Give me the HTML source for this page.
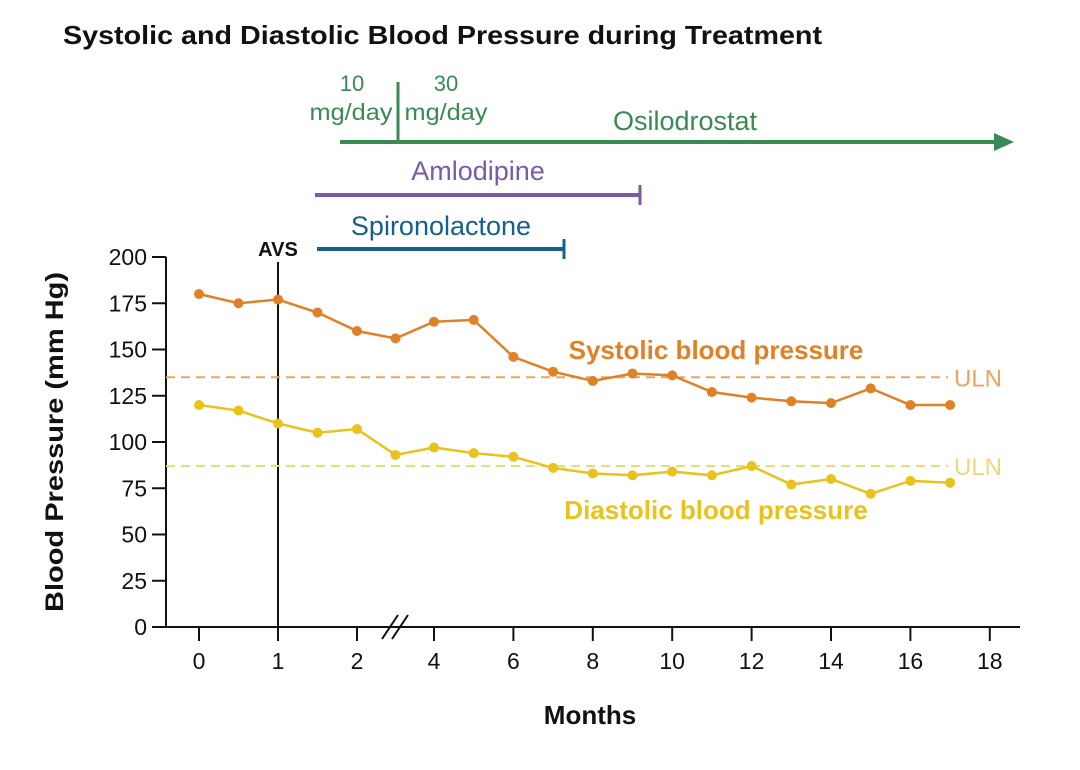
<!DOCTYPE html>
<html><head><meta charset="utf-8"><style>
body{margin:0;background:#fff;width:1080px;height:770px;overflow:hidden}
svg{display:block;font-family:"Liberation Sans",sans-serif}
</style></head><body>
<svg id="chart" width="1080" height="770" viewBox="0 0 1080 770">
<text x="63" y="44" font-size="26" font-weight="bold" fill="#111" textLength="759" lengthAdjust="spacingAndGlyphs">Systolic and Diastolic Blood Pressure during Treatment</text>
<g fill="#3a8a55" stroke="#3a8a55">
<line x1="340" y1="142" x2="996" y2="142" stroke-width="4"/>
<polygon points="994,133 1014,142 994,151" stroke="none"/>
<line x1="398" y1="82" x2="398" y2="142" stroke-width="3"/>
<text x="352" y="91" font-size="22" text-anchor="middle" stroke="none">10</text>
<text x="351" y="120" font-size="23" text-anchor="middle" stroke="none" textLength="83" lengthAdjust="spacingAndGlyphs">mg/day</text>
<text x="446" y="91" font-size="22" text-anchor="middle" stroke="none">30</text>
<text x="446" y="120" font-size="23" text-anchor="middle" stroke="none" textLength="83" lengthAdjust="spacingAndGlyphs">mg/day</text>
<text x="685" y="130" font-size="27" text-anchor="middle" stroke="none">Osilodrostat</text>
</g>
<g stroke="#7b5aa6" fill="#7b5aa6">
<line x1="315" y1="195" x2="640" y2="195" stroke-width="4"/>
<line x1="640" y1="185" x2="640" y2="205" stroke-width="3"/>
<text x="478" y="180" font-size="27" text-anchor="middle" stroke="none">Amlodipine</text>
</g>
<g stroke="#15608e" fill="#15608e">
<line x1="317" y1="249" x2="564" y2="249" stroke-width="4"/>
<line x1="564" y1="239" x2="564" y2="259" stroke-width="3"/>
<text x="441" y="235" font-size="27" text-anchor="middle" stroke="none">Spironolactone</text>
</g>
<g id="axes"></g>
<g id="marks"></g>
</svg>
<script>
const months=[0,0.5,1,1.5,2,3,4,5,6,7,8,9,10,11,12,13,14,15,16,17];
const systolic=[180,175,177,170,160,156,165,166,146,138,133,137,136,127,124,122,121,129,120,120];
const diastolic=[120,117,110,105,107,93,97,94,92,86,83,82,84,82,87,77,80,72,79,78];
const xTicks=[0,1,2,4,6,8,10,12,14,16,18];
const yTicks=[0,25,50,75,100,125,150,175,200];
const ulnSys=135, ulnDia=87;
const NS="http://www.w3.org/2000/svg";
function xs(m){return m<=2?199+79*m:(m<=4?357+(m-2)*38.5:434+(m-4)*39.7);}
function ys(v){return 627-v*1.85;}
function mk(tag,attrs,parent){const e=document.createElementNS(NS,tag);for(const k in attrs)e.setAttribute(k,attrs[k]);parent.appendChild(e);return e;}
const ax=document.getElementById('axes'), mg=document.getElementById('marks');
let e;
e=mk('line',{x1:166,y1:257,x2:166,y2:628,stroke:'#111','stroke-width':2},ax);


e=mk('line',{x1:152,y1:627,x2:1020,y2:627,stroke:'#111','stroke-width':2},ax);


yTicks.forEach(v=>{
 mk('line',{x1:152,y1:ys(v),x2:166,y2:ys(v),stroke:'#111','stroke-width':2},ax);
 e=mk('text',{x:147,y:ys(v)+8,'font-size':23,'text-anchor':'end',fill:'#111'},ax);e.textContent=v;
 
 
});
xTicks.forEach(m=>{
 mk('line',{x1:xs(m),y1:627,x2:xs(m),y2:641,stroke:'#111','stroke-width':2},ax);
 e=mk('text',{x:xs(m),y:669,'font-size':23,'text-anchor':'middle',fill:'#111'},ax);e.textContent=m;
 
 
});
mk('line',{x1:382,y1:639,x2:398,y2:615,stroke:'#111','stroke-width':2},ax);
mk('line',{x1:392,y1:639,x2:408,y2:615,stroke:'#111','stroke-width':2},ax);
e=mk('text',{x:590,y:724,'font-size':26,'font-weight':'bold','text-anchor':'middle',fill:'#111'},ax);e.textContent='Months';


e=mk('text',{x:0,y:0,'font-size':25,'font-weight':'bold','text-anchor':'middle',fill:'#111',transform:'translate(63,442) rotate(-90)',textLength:340,lengthAdjust:'spacingAndGlyphs'},ax);e.textContent='Blood Pressure (mm Hg)';


e=mk('line',{x1:278,y1:262,x2:278,y2:641,stroke:'#111','stroke-width':2},ax);


e=mk('text',{x:278,y:256,'font-size':20,'font-weight':'bold','text-anchor':'middle',fill:'#111'},ax);e.textContent='AVS';


function uln(v,col,name){
 e=mk('line',{x1:166,y1:ys(v),x2:948,y2:ys(v),stroke:col,'stroke-width':2,'stroke-dasharray':'9,6'},mg);
 
 
 e=mk('text',{x:954,y:ys(v)+9,'font-size':24,fill:col},mg);e.textContent='ULN';
 
 
}
uln(ulnSys,'#eba55e','systolic-uln');
uln(ulnDia,'#f0d77a','diastolic-uln');
function series(vals,col,name){
 const pts=vals.map((v,i)=>xs(months[i])+','+ys(v)).join(' ');
 e=mk('polyline',{points:pts,fill:'none',stroke:col,'stroke-width':2.5},mg);
 
 
 vals.forEach((v,i)=>{
  e=mk('circle',{cx:xs(months[i]),cy:ys(v),r:5,fill:col},mg);
  
  
 });
}
series(systolic,'#e08127','systolic');
series(diastolic,'#e9c21c','diastolic');
e=mk('text',{x:716,y:359,'font-size':26,'font-weight':'bold','text-anchor':'middle',fill:'#e08127'},mg);e.textContent='Systolic blood pressure';


e=mk('text',{x:716,y:519,'font-size':26,'font-weight':'bold','text-anchor':'middle',fill:'#e9c21c'},mg);e.textContent='Diastolic blood pressure';


</script>
</body></html>
